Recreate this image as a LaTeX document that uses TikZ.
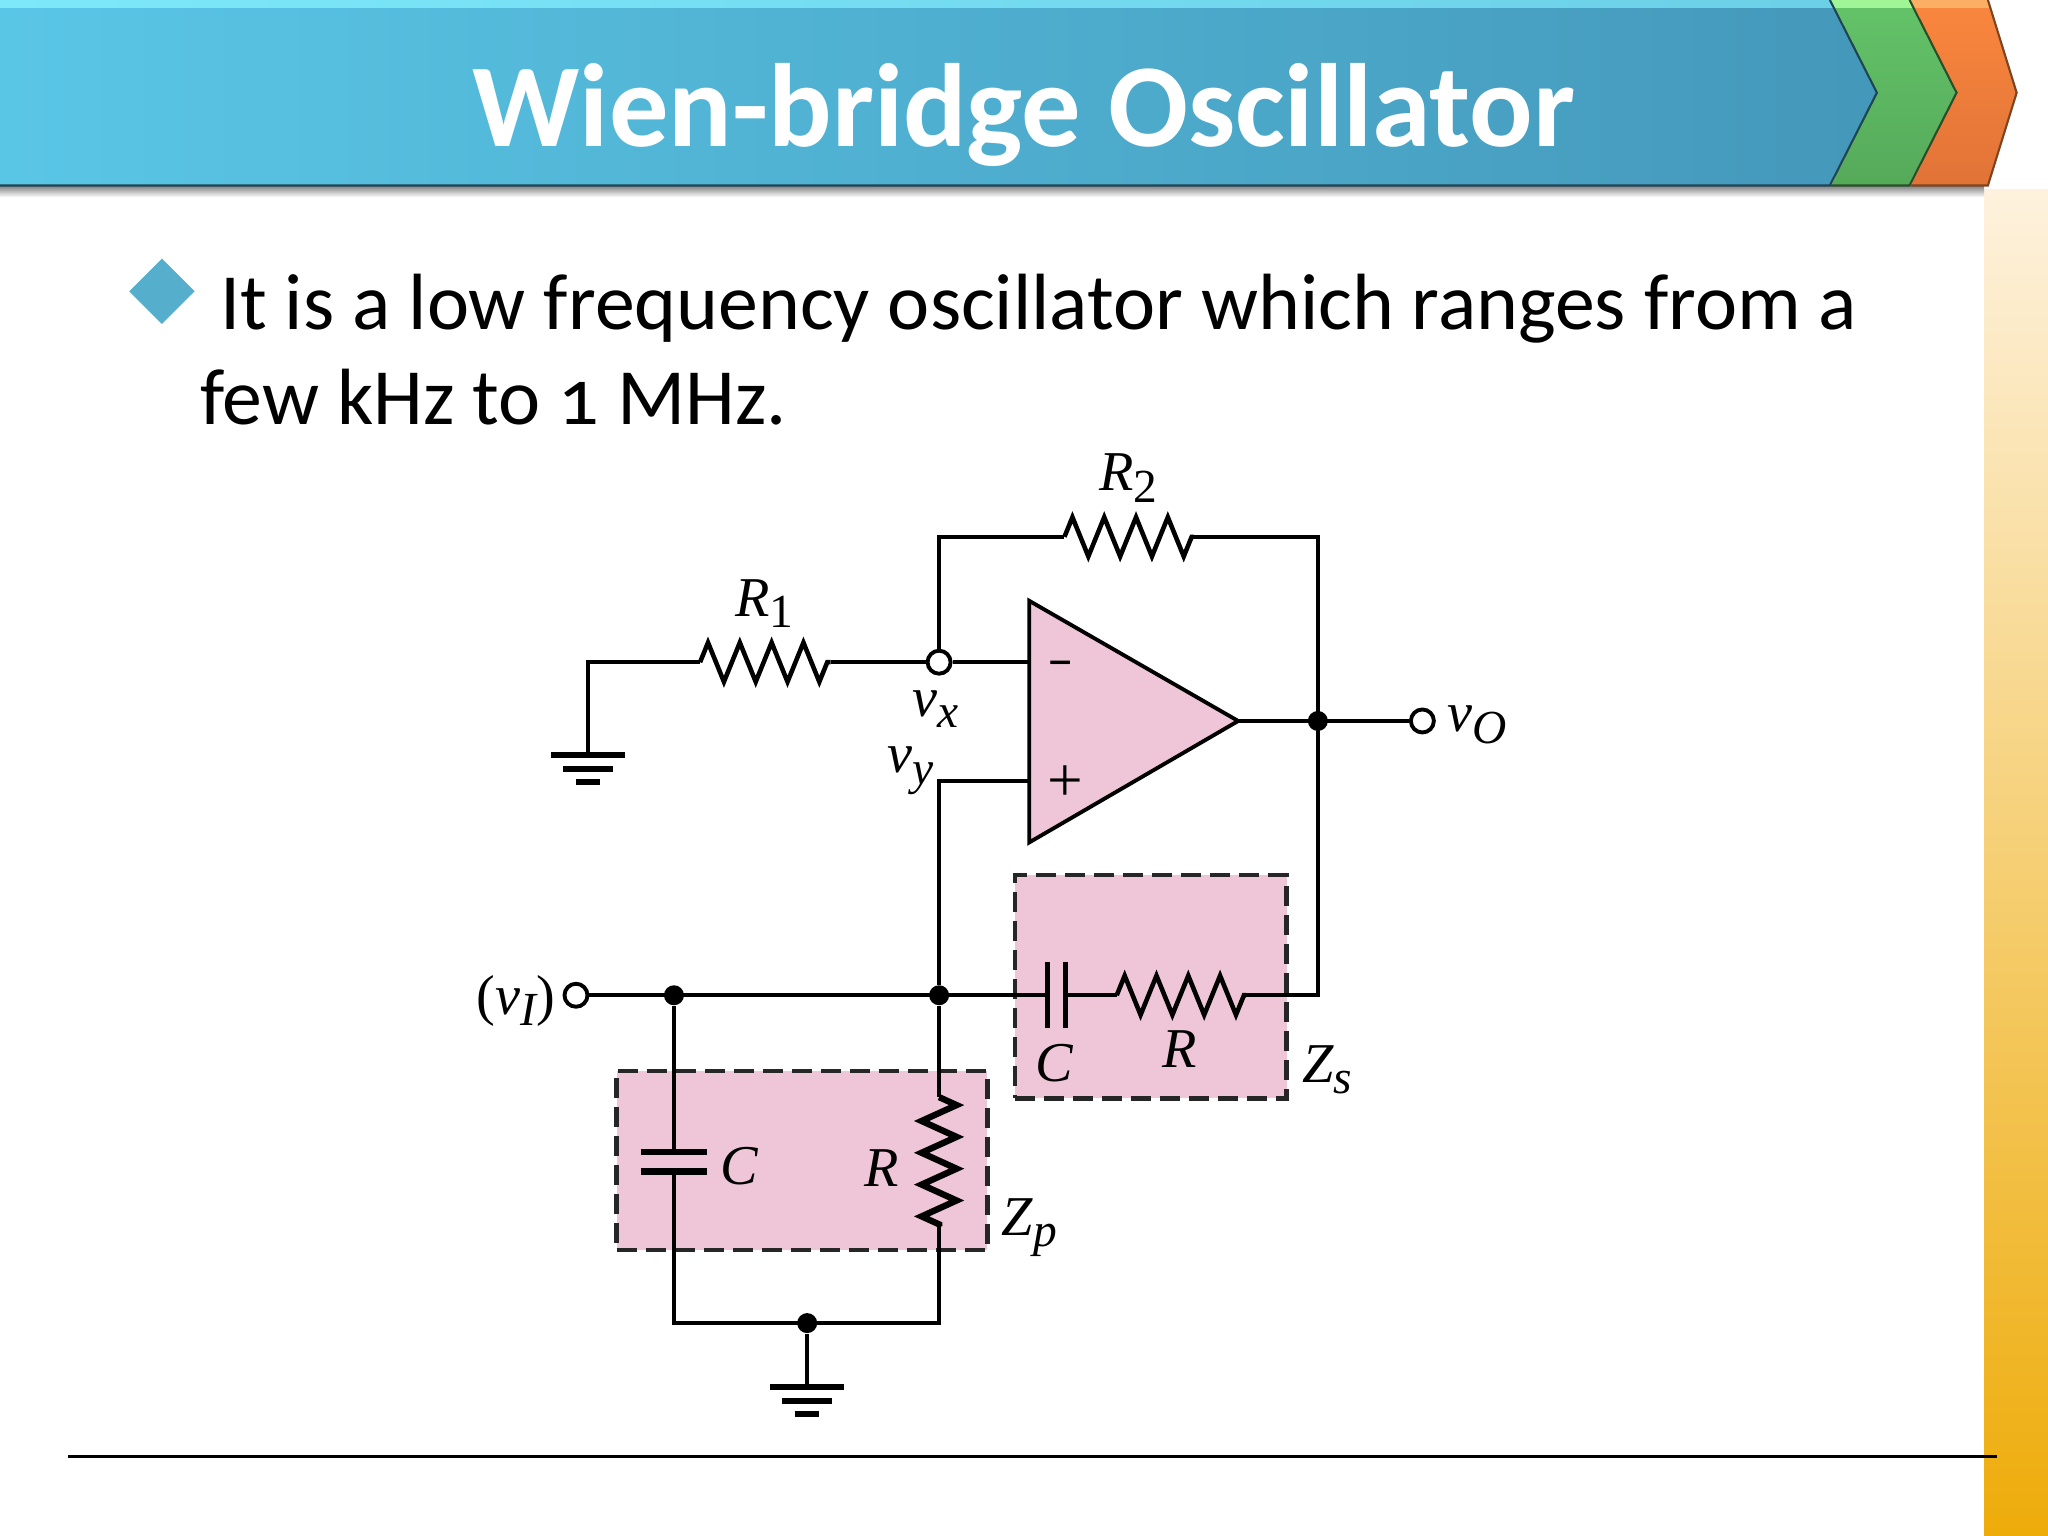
\documentclass[tikz,border=0pt]{standalone}
\usepackage{fontspec}
\usepackage{tikz}
\usetikzlibrary{shapes.geometric, decorations.pathmorphing}
\setmainfont{Carlito}[Numbers=OldStyle]
\newfontfamily\labelfont{Liberation Serif}
\definecolor{ampfill}{RGB}{239,198,216}
\definecolor{barlight}{RGB}{90,198,230}
\definecolor{bardark}{RGB}{68,152,186}
\definecolor{bartop}{RGB}{125,232,250}
\definecolor{greenbar}{RGB}{100,195,105}
\definecolor{greenlow}{RGB}{85,170,90}
\definecolor{greentop}{RGB}{160,245,150}
\definecolor{orangebar}{RGB}{250,135,62}
\definecolor{orangelow}{RGB}{225,115,55}
\definecolor{orangetop}{RGB}{250,175,100}
\definecolor{diamondblue}{RGB}{86,174,205}
\definecolor{bandtop}{RGB}{254,242,222}
\definecolor{bandmid}{RGB}{245,213,125}
\definecolor{bandlow}{RGB}{238,172,10}
\newcommand{\sublabel}[2]{{\labelfont\itshape #1\raisebox{-0.45ex}{\fontsize{13.5}{14}\selectfont #2}}}
\begin{document}
\begin{tikzpicture}[x=0.01306cm, y=-0.01306cm, font=\labelfont\fontsize{16}{18}\selectfont]
		\tikzstyle{wire} = [draw=black, line width=1.1pt, line join=miter]
		\tikzstyle{resistor} = [wire, line width=1.3pt, decorate, decoration={zigzag, amplitude=0.196cm, segment length=0.318cm}]
		\tikzstyle{resistorv} = [wire, line width=1.8pt, decorate, decoration={zigzag, amplitude=0.175cm, segment length=0.318cm}]
		\tikzstyle{plate} = [draw=black, line width=1.4pt]
		\tikzstyle{opendot} = [circle, draw=black, line width=1.1pt, fill=white, minimum size=0.23cm, inner sep=0pt]
		\tikzstyle{soliddot} = [circle, fill=black, minimum size=0.2cm, inner sep=0pt]
		\tikzstyle{dashbox} = [rectangle, draw=black!85, fill=ampfill, line width=1.3pt, dash pattern=on 0.2cm off 0.09cm, inner sep=0pt]
		\tikzstyle{bar} = [draw=black, line width=1.8pt]
		
		\useasboundingbox (0,0) rectangle (1568,1176);
		
		% Background band and title bar
		\shade [top color=bandtop, middle color=bandmid, bottom color=bandlow] (1519,145) rectangle (1568,1176);
		\shade [top color=black!45, bottom color=white] (0,143) rectangle (1519,151);
		\shade [top color=orangebar, bottom color=orangelow] (1463,0) -- (1522,0) -- (1544,71) -- (1522,142) -- (1463,142) -- (1498,71) -- cycle;
		\fill [orangetop] (1463,0) -- (1522,0) -- (1524,6) -- (1466,6) -- cycle;
		\draw [orangebar!50!black, line width=0.6pt] (1522,0) -- (1544,71) -- (1522,142) -- (1463,142);
		\shade [top color=greenbar, bottom color=greenlow] (1402,0) -- (1462,0) -- (1498,71) -- (1462,142) -- (1402,142) -- (1437,71) -- cycle;
		\fill [greentop] (1402,0) -- (1462,0) -- (1465,6) -- (1405,6) -- cycle;
		\draw [greenbar!40!black, line width=0.6pt] (1462,0) -- (1498,71) -- (1462,142) -- (1402,142);
		\shade [left color=barlight, right color=bardark] (0,0) -- (1401,0) -- (1437,71) -- (1401,142) -- (0,142) -- cycle;
		\shade [left color=bartop, right color=bartop!70!bardark] (0,0) -- (1401,0) -- (1404,6) -- (0,6) -- cycle;
		\draw [bardark!45!black, line width=0.6pt] (1401,0) -- (1437,71) -- (1401,142) -- (0,142);
		\node (title) [anchor=base, text=white, inner sep=0pt, font=\rmfamily\bfseries\fontsize{33.7}{38}\selectfont] at (784,112) {Wien-bridge Oscillator};
		
		% Bullet text
		\node (bullet) [diamond, fill=diamondblue, minimum size=0.66cm, inner sep=0pt] at (124,223) {};
		\node (line1) [anchor=base west, inner sep=0pt, font=\rmfamily\fontsize{22.7}{27}\selectfont] at (168,252) {It is a low frequency oscillator which ranges from a};
		\node (line2) [anchor=base west, inner sep=0pt, font=\rmfamily\fontsize{22.7}{27}\selectfont] at (153,325) {few kHz to 1 MHz.};
		\draw [black, line width=0.8pt] (52,1115) -- (1529,1115);
		
		% Shaded impedance boxes
		\node (zsbox) [dashbox, minimum width=2.716cm, minimum height=2.233cm] at (881,755.5) {};
		\node (zpbox) [dashbox, minimum width=3.709cm, minimum height=1.789cm] at (614,888.5) {};
		
		% Op amp
		\coordinate (ampa) at (788,460);
		\coordinate (ampb) at (788,645);
		\coordinate (ampout) at (948,552);
		\coordinate (ampm) at (788,507);
		\coordinate (ampp) at (788,598);
		\draw [wire, fill=ampfill] (ampa) -- (ampb) -- (ampout) -- cycle;
		\node (minus) at (812,513) {\rmfamily\fontsize{15}{15}\selectfont −};
		\node (plus) at (816,600) {\labelfont\fontsize{18}{18}\selectfont +};
		
		% Junctions
		\node (vxdot) [opendot] at (719,507) {};
		\node (vodot) [opendot] at (1089,552) {};
		\node (vidot) [opendot] at (441,762) {};
		\node (outdot) [soliddot] at (1009,552) {};
		\node (cdot) [soliddot] at (516,762) {};
		\node (rdot) [soliddot] at (719,762) {};
		\node (gnddot) [soliddot] at (618,1013) {};
		
		% Corners and resistor ends
		\coordinate (gndtop) at (450,507);
		\coordinate (gnda) at (450,578);
		\coordinate (rone) at (536,507);
		\coordinate (roneb) at (636,507);
		\coordinate (topl) at (719,411);
		\coordinate (rtwo) at (815,411);
		\coordinate (rtwob) at (914,411);
		\coordinate (topr) at (1009,411);
		\coordinate (midr) at (1009,762);
		\coordinate (plusc) at (719,598);
		\coordinate (csa) at (802,762);
		\coordinate (csb) at (816,762);
		\coordinate (rsa) at (855,762);
		\coordinate (rsb) at (954,762);
		\coordinate (rpa) at (719,840);
		\coordinate (rpb) at (719,939);
		\coordinate (cpa) at (516,882);
		\coordinate (cpb) at (516,897);
		\coordinate (botl) at (516,1013);
		\coordinate (botr) at (719,1013);
		\coordinate (gndb) at (618,1062);
		
		% Wires
		\draw [wire] (gnda) -- (gndtop) -- (rone);
		\draw [resistor] (rone) -- (roneb);
		\draw [wire] (roneb) -- (vxdot);
		\draw [wire] (vxdot) -- (ampm);
		\draw [wire] (vxdot) -- (topl) -- (rtwo);
		\draw [resistor] (rtwo) -- (rtwob);
		\draw [wire] (rtwob) -- (topr) -- (midr) -- (rsb);
		\draw [wire] (ampout) -- (vodot);
		\draw [wire] (ampp) -- (plusc) -- (rdot);
		\draw [wire] (vidot) -- (csa);
		\draw [wire] (csb) -- (rsa);
		\draw [resistor] (rsa) -- (rsb);
		\draw [wire] (rdot) -- (rpa);
		\draw [resistorv] (rpa) -- (rpb);
		\draw [wire] (rpb) -- (botr) -- (botl) -- (cpb);
		\draw [wire] (cpa) -- (cdot);
		\draw [wire] (gnddot) -- (gndb);
		
		% Capacitor plates
		\draw [plate] ([yshift=-0.33cm]csa) -- ([yshift=0.33cm]csa);
		\draw [plate] ([yshift=-0.33cm]csb) -- ([yshift=0.33cm]csb);
		\draw [plate, line width=1.9pt] ([xshift=-0.33cm]cpa) -- ([xshift=0.33cm]cpa);
		\draw [plate, line width=1.9pt] ([xshift=-0.33cm]cpb) -- ([xshift=0.33cm]cpb);
		
		% Ground symbols
		\draw [bar] ([xshift=-0.37cm]gnda) -- ([xshift=0.37cm]gnda);
		\draw [bar] ([xshift=-0.25cm,yshift=-0.14cm]gnda) -- ([xshift=0.25cm,yshift=-0.14cm]gnda);
		\draw [bar] ([xshift=-0.12cm,yshift=-0.27cm]gnda) -- ([xshift=0.12cm,yshift=-0.27cm]gnda);
		\draw [bar] ([xshift=-0.37cm]gndb) -- ([xshift=0.37cm]gndb);
		\draw [bar] ([xshift=-0.25cm,yshift=-0.14cm]gndb) -- ([xshift=0.25cm,yshift=-0.14cm]gndb);
		\draw [bar] ([xshift=-0.12cm,yshift=-0.27cm]gndb) -- ([xshift=0.12cm,yshift=-0.27cm]gndb);
		
		% Labels
		\node (rtwolabel) at (864,366) {\labelfont\itshape R\raisebox{-0.45ex}{\upshape\fontsize{13.5}{14}\selectfont 2}};
		\node (ronelabel) at (585,462) {\labelfont\itshape R\raisebox{-0.45ex}{\upshape\fontsize{13.5}{14}\selectfont 1}};
		\node (vxlabel) at (716,543) {\sublabel{v}{x}};
		\node (vylabel) at (697,590) {\sublabel{v}{y}};
		\node (volabel) at (1131,555) {\sublabel{v}{O}};
		\node (vilabel) at (395,766) {{\labelfont (}\sublabel{v}{I}{\labelfont )}};
		\node (cslabel) at (807,814) {\labelfont\itshape C};
		\node (rslabel) at (903,803) {\labelfont\itshape R};
		\node (zslabel) at (1016,819) {\sublabel{Z}{s}};
		\node (cplabel) at (566,893) {\labelfont\itshape C};
		\node (rplabel) at (675,894) {\labelfont\itshape R};
		\node (zplabel) at (788,940) {\sublabel{Z}{p}};
		\end{tikzpicture}
\end{document}
